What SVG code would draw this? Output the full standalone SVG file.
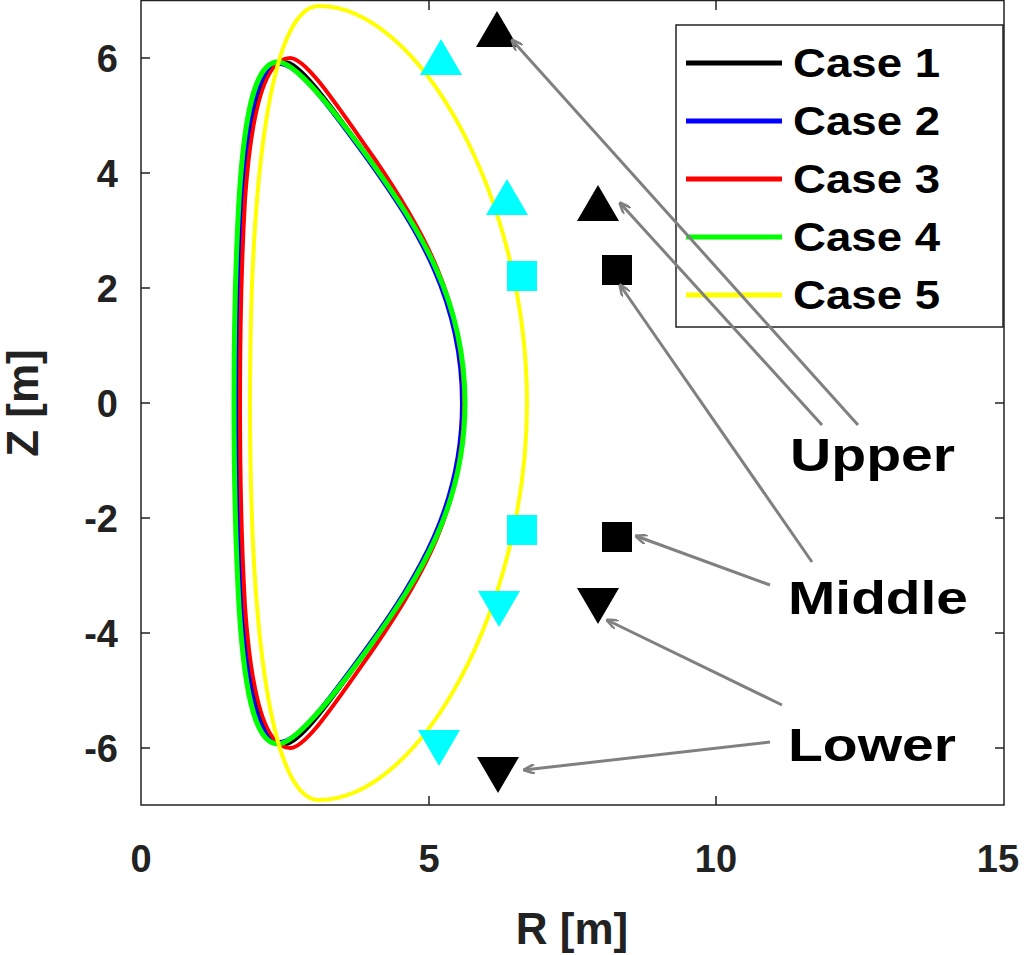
<svg xmlns="http://www.w3.org/2000/svg" width="1025" height="955" viewBox="0 0 1025 955">
<style>
text{font-family:"Liberation Sans",Arial,sans-serif;font-weight:bold;fill:#222}
.tk{font-size:38px}
.lg{font-size:40px;fill:#000}
.lb{font-size:46px;fill:#000}
.ar{stroke:#808080;stroke-width:3;fill:none;marker-end:url(#ah)}
</style>
<defs>
<marker id="ah" markerWidth="12" markerHeight="10" refX="11" refY="5" orient="auto" markerUnits="userSpaceOnUse">
<path d="M0,0 L12,5 L0,10" fill="none" stroke="#808080" stroke-width="2.5"/>
</marker>
</defs>
<rect width="1025" height="955" fill="#fff"/>
<g id="axes">
<rect x="141" y="0.5" width="863" height="804.5" fill="none" stroke="#222" stroke-width="1.5"/>
<g stroke="#222" stroke-width="1.5">
<path d="M429,805v-9M716,805v-9M429,1v9M716,1v9"/>
<path d="M141,58h9M141,173h9M141,288h9M141,403h9M141,518h9M141,633h9M141,748h9"/>
<path d="M1004,58h-9M1004,173h-9M1004,288h-9M1004,403h-9M1004,518h-9M1004,633h-9M1004,748h-9"/>
</g>
<g class="tk" text-anchor="end">
<text x="118" y="72">6</text><text x="118" y="187">4</text><text x="118" y="302">2</text><text x="118" y="417">0</text>
<text x="118" y="532">-2</text><text x="118" y="647">-4</text><text x="118" y="762">-6</text>
</g>
<g class="tk" text-anchor="middle">
<text x="141" y="872">0</text><text x="429" y="872">5</text><text x="716" y="872">10</text><text x="998" y="872">15</text>
</g>
<text x="572" y="944" text-anchor="middle" style="font-size:44px">R [m]</text>
<text transform="translate(38,403) rotate(-90)" text-anchor="middle" style="font-size:44px">Z [m]</text>
</g>
<g id="curves" fill="none" stroke-width="4">
<path stroke="#000" d="M463,403 C463,300 420,230 370,160 C330,105 300,62 285,62 C265,62 250,100 243,200 C239,270 238,340 238,403 C238,466 239,536 243,606 C250,706 265,744 285,744 C300,744 330,701 370,646 C420,576 463,506 463,403Z"/>
<path stroke="#00f" d="M462,403 C462,300 418,230 368,160 C328,105 298,64 280,64 C262,64 248,100 242,200 C238,270 238,340 238,403 C238,466 238,536 242,606 C248,706 262,742 280,742 C298,742 328,701 368,646 C418,576 462,506 462,403Z"/>
<path stroke="#f00" d="M464,403 C464,300 422,228 374,158 C336,104 306,58 290,58 C268,58 252,100 245,200 C241,270 240,340 240,403 C240,466 241,536 245,606 C252,706 268,748 290,748 C306,748 336,702 374,648 C422,578 464,506 464,403Z"/>
<path stroke="#0f0" stroke-width="5" d="M465,403 C465,300 420,230 370,160 C330,105 295,62 278,62 C258,62 245,100 239,200 C235,270 234,340 234,403 C234,466 235,536 239,606 C245,706 258,744 278,744 C295,744 330,701 370,646 C420,576 465,506 465,403Z"/>
<path stroke="#ff0" d="M527,403 C527,200 420,6 319,6 C275,6 250,150 250,403 C250,656 275,800 319,800 C420,800 527,606 527,403Z"/>
</g>
<g id="markers">
<g fill="#0ff">
<path d="M441,39 L462,75 L420,75Z"/><path d="M507,179 L528,215 L486,215Z"/>
<rect x="507" y="261" width="30" height="30"/><rect x="507" y="515" width="30" height="30"/>
<path d="M478,591 L520,591 L499,627Z"/><path d="M418,730 L460,730 L439,766Z"/>
</g>
<g fill="#000">
<path d="M497,11 L518,47 L476,47Z"/><path d="M598,185 L619,221 L577,221Z"/>
<rect x="602" y="255" width="30" height="30"/><rect x="602" y="522" width="30" height="30"/>
<path d="M577,588 L619,588 L598,624Z"/><path d="M477,757 L519,757 L498,793Z"/>
</g>
</g>
<g id="legend">
<rect x="676" y="25" width="327" height="302" fill="#fff" stroke="#222" stroke-width="1.5"/>
<g stroke-width="5">
<path d="M686,63h96" stroke="#000"/><path d="M686,121h96" stroke="#00f"/><path d="M686,179h96" stroke="#f00"/>
<path d="M686,237h96" stroke="#0f0"/><path d="M686,295h96" stroke="#ff0"/>
</g>
<g lengthAdjust="spacingAndGlyphs">
<text class="lg" x="793" y="77" textLength="147" lengthAdjust="spacingAndGlyphs">Case 1</text><text class="lg" x="793" y="135" textLength="147" lengthAdjust="spacingAndGlyphs">Case 2</text>
<text class="lg" x="793" y="193" textLength="147" lengthAdjust="spacingAndGlyphs">Case 3</text><text class="lg" x="793" y="251" textLength="147" lengthAdjust="spacingAndGlyphs">Case 4</text>
<text class="lg" x="793" y="309" textLength="147" lengthAdjust="spacingAndGlyphs">Case 5</text>
</g>
</g>
<g id="connectors">
<path class="ar" d="M858,425 L512,40"/>
<path class="ar" d="M822,425 L620,203"/>
<path class="ar" d="M812,562 L620,285"/>
<path class="ar" d="M770,585 L636,536"/>
<path class="ar" d="M782,705 L607,620"/>
<path class="ar" d="M770,742 L524,770"/>
</g>
<g id="labels">
<text class="lb" x="790" y="471" textLength="165" lengthAdjust="spacingAndGlyphs">Upper</text>
<text class="lb" x="788" y="614" textLength="180" lengthAdjust="spacingAndGlyphs">Middle</text>
<text class="lb" x="788" y="761" textLength="168" lengthAdjust="spacingAndGlyphs">Lower</text>
</g>
</svg>
